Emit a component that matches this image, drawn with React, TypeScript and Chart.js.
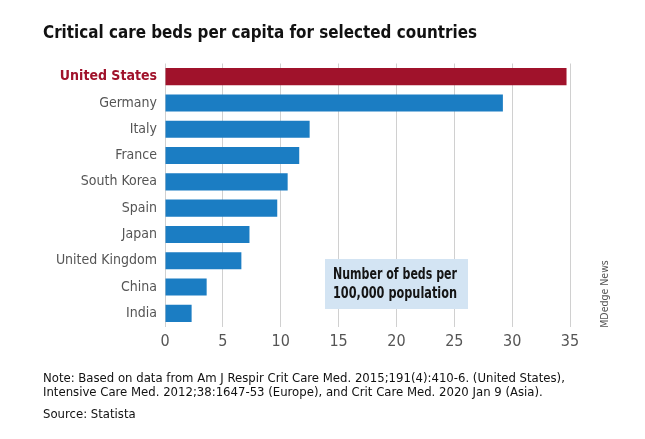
import React, { useEffect, useRef } from "react";
import { Chart, registerables } from "chart.js";

Chart.register(...registerables);

const countries = [
  "United States",
  "Germany",
  "Italy",
  "France",
  "South Korea",
  "Spain",
  "Japan",
  "United Kingdom",
  "China",
  "India",
];
const bedsPer100k = [34.7, 29.2, 12.5, 11.6, 10.6, 9.7, 7.3, 6.6, 3.6, 2.3];
const xTicks = [0, 5, 10, 15, 20, 25, 30, 35];

const titleText = "Critical care beds per capita for selected countries";
const boxLines = ["Number of beds per", "100,000 population"];
const creditText = "MDedge News";
const noteLines = [
  "Note: Based on data from Am J Respir Crit Care Med. 2015;191(4):410-6. (United States),",
  "Intensive Care Med. 2012;38:1647-53 (Europe), and Crit Care Med. 2020 Jan 9 (Asia).",
];
const sourceText = "Source: Statista";

const FONT = '"Liberation Sans Narrow", "DejaVu Sans Condensed", "Roboto Condensed", sans-serif';
const RED = "#a0122b";
const BLUE = "#1b7dc3";
const GRAY = "#555555";

function fitText(ctx: any, text: string, x: number, y: number, width: number) {
  const w = ctx.measureText(text).width;
  ctx.save();
  ctx.translate(x, y);
  ctx.scale(width / w, 1);
  ctx.fillText(text, 0, 0);
  ctx.restore();
}

const overlayPlugin = {
  id: "overlay",
  afterDraw(chart: any) {
    const ctx = chart.ctx;
    ctx.save();
    // title
    ctx.fillStyle = "#111111";
    ctx.font = `bold 18px ${FONT}`;
    ctx.textBaseline = "alphabetic";
    ctx.textAlign = "left";
    fitText(ctx, titleText, 43, 37.5, 434);
    // annotation box
    ctx.fillStyle = "#d3e4f3";
    ctx.fillRect(325, 259, 143, 50);
    ctx.fillStyle = "#151515";
    ctx.font = `bold 15px ${FONT}`;
    ctx.textBaseline = "middle";
    fitText(ctx, boxLines[0], 333, 275, 124);
    fitText(ctx, boxLines[1], 333, 294, 124);
    // credit
    ctx.translate(605, 294);
    ctx.rotate(-Math.PI / 2);
    ctx.textAlign = "center";
    ctx.fillStyle = GRAY;
    ctx.font = `10.5px ${FONT}`;
    ctx.fillText(creditText, 0, 0);
    ctx.restore();
  },
};

export default function App() {
  const ref = useRef<HTMLCanvasElement | null>(null);
  useEffect(() => {
    document.body.style.margin = "0";
    const canvas = ref.current;
    if (!canvas) return;
    const chart = new Chart(canvas, {
      type: "bar",
      data: {
        labels: countries,
        datasets: [
          {
            data: bedsPer100k,
            backgroundColor: countries.map((_, i) => (i === 0 ? RED : BLUE)),
            barPercentage: 0.65,
            categoryPercentage: 1,
          },
        ],
      },
      options: {
        indexAxis: "y",
        animation: false,
        responsive: false,
        devicePixelRatio: 1,
        layout: { padding: { top: 63.5, right: 75, bottom: 0, left: 0 } },
        plugins: {
          legend: { display: false },
          tooltip: { enabled: false },
        },
        scales: {
          x: {
            min: 0,
            max: 35,
            afterBuildTicks: (scale: any) => {
              scale.ticks = xTicks.map((v) => ({ value: v }));
            },
            afterFit: (scale: any) => {
              scale.height = 112.5;
            },
            grid: { color: "#d0d0d0", lineWidth: 1, drawTicks: false },
            border: { display: false },
            ticks: {
              color: GRAY,
              padding: 6,
              font: { family: FONT, size: 16 },
            },
          },
          y: {
            afterFit: (scale: any) => {
              scale.width = 165;
            },
            grid: { display: false, drawTicks: false },
            border: { display: false },
            ticks: {
              padding: 8,
              color: (c: any) => (c.index === 0 ? RED : GRAY),
              font: (c: any) => ({
                family: FONT,
                size: 14,
                weight: c.index === 0 ? "bold" : "normal",
              }),
            },
          },
        },
      },
      plugins: [overlayPlugin],
    });
    return () => chart.destroy();
  }, []);

  return (
    <div style={{ position: "relative", width: 645, height: 439, background: "#fff" }}>
      <canvas ref={ref} width={645} height={439} style={{ position: "absolute", left: 0, top: 0 }} />
      <div
        style={{
          position: "absolute",
          left: 43,
          top: 370.5,
          fontFamily: FONT,
          fontSize: 13,
          lineHeight: "14px",
          color: "#111",
          whiteSpace: "nowrap",
        }}
      >
        <div>{noteLines[0]}</div>
        <div>{noteLines[1]}</div>
        <div style={{ marginTop: 8.5 }}>{sourceText}</div>
      </div>
    </div>
  );
}
